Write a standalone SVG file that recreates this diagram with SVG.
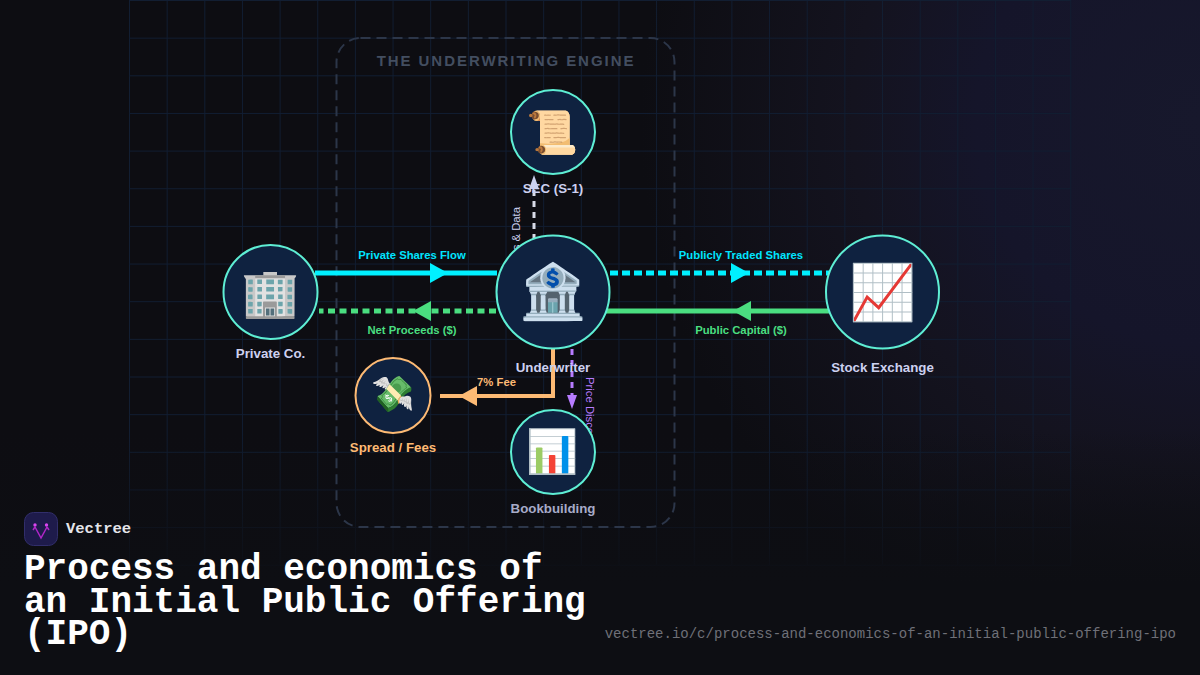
<svg xmlns="http://www.w3.org/2000/svg" width="1200" height="675" viewBox="0 0 1200 675">
<defs>
<radialGradient id="glow" gradientUnits="userSpaceOnUse" cx="1200" cy="120" r="560"><stop offset="0" stop-color="#17182c"/><stop offset="0.4" stop-color="#15152a"/><stop offset="0.62" stop-color="#14131f"/><stop offset="1" stop-color="#0d0d12"/></radialGradient>
<linearGradient id="fade" x1="0" y1="0" x2="0" y2="1"><stop offset="0" stop-color="#0d0e13" stop-opacity="0"/><stop offset="1" stop-color="#0d0e13" stop-opacity="1"/></linearGradient>
<marker id="ac" markerUnits="userSpaceOnUse" markerWidth="18" markerHeight="20" refX="9" refY="10" orient="auto"><path d="M0 0L18 10L0 20Z" fill="#00f0ff"/></marker>
<marker id="ag" markerUnits="userSpaceOnUse" markerWidth="18" markerHeight="20" refX="9" refY="10" orient="auto"><path d="M0 0L18 10L0 20Z" fill="#4ade80"/></marker>
<marker id="ao" markerUnits="userSpaceOnUse" markerWidth="18" markerHeight="20" refX="9" refY="10" orient="auto"><path d="M0 0L18 10L0 20Z" fill="#fdba74"/></marker>
<marker id="aw" markerUnits="userSpaceOnUse" markerWidth="14" markerHeight="10" refX="7" refY="5" orient="auto"><path d="M0 0L14 5L0 10Z" fill="#cbd0ee"/></marker>
<marker id="ap" markerUnits="userSpaceOnUse" markerWidth="14" markerHeight="10" refX="7" refY="5" orient="auto"><path d="M0 0L14 5L0 10Z" fill="#b77cff"/></marker>
</defs>
<style>
.n{fill:#0f2240;stroke:#5eeed4;stroke-width:2}
.e{font-family:"Noto Color Emoji","Noto Sans",sans-serif;text-anchor:middle}
.l{font-family:"Liberation Sans",Arial,sans-serif;font-weight:700;font-size:13.3px;fill:#cdd1f0;text-anchor:middle}
.f{font-family:"Liberation Sans",Arial,sans-serif;font-weight:700;font-size:11.3px;text-anchor:middle}
.r{font-family:"Liberation Sans",Arial,sans-serif;font-size:11.3px}
.m{font-family:"Liberation Mono",monospace}
.c{fill:none;stroke-width:5}
.g{fill:none;stroke:#121e32;stroke-width:1}
</style>
<rect width="1200" height="675" fill="#0c0c11"/>
<rect width="1200" height="675" fill="url(#glow)"/>
<path class="g" d="M129.5 0V565M167.15 0V565M204.8 0V565M242.45 0V565M280.1 0V565M317.75 0V565M355.4 0V565M393.05 0V565M430.7 0V565M468.35 0V565M506 0V565M543.65 0V565M581.3 0V565M618.95 0V565M656.6 0V565M694.25 0V565M731.9 0V565M769.55 0V565M807.2 0V565M844.85 0V565M882.5 0V565M920.15 0V565M957.8 0V565M995.45 0V565M1033.1 0V565M1070.75 0V565M129.5 .5H1071M129.5 38.15H1071M129.5 75.8H1071M129.5 113.45H1071M129.5 151.1H1071M129.5 188.75H1071M129.5 226.4H1071M129.5 264.05H1071M129.5 301.7H1071M129.5 339.35H1071M129.5 377H1071M129.5 414.65H1071M129.5 452.3H1071M129.5 489.95H1071M129.5 527.6H1071M129.5 565.25H1071"/>
<rect x="0" y="430" width="1200" height="155" fill="url(#fade)"/>
<rect x="0" y="585" width="1200" height="90" fill="#0d0e13"/>
<g id="engine"><rect x="336.500" y="38" width="338" height="489" rx="24" fill="none" stroke="#2c3649" stroke-width="2" stroke-dasharray="10 6"/>
<text x="506" y="66" text-anchor="middle" style="font-family:'Liberation Sans',Arial,sans-serif;font-weight:700;font-size:15px;letter-spacing:1.95px" fill="#434e60">THE UNDERWRITING ENGINE</text></g>
<g id="connectors">
<path class="c" d="M315 273H497" stroke="#00f0ff"/>
<path d="M439 273h.01" marker-end="url(#ac)" fill="none"/>
<path class="c" d="M610 273H830" stroke="#00f0ff" stroke-dasharray="8 4"/>
<path d="M740 273h.01" marker-end="url(#ac)" fill="none"/>
<path class="c" d="M496 311H319" stroke="#4ade80" stroke-dasharray="7 4.500"/>
<path d="M422 311h-.01" marker-end="url(#ag)" fill="none"/>
<path class="c" d="M830 311H606" stroke="#4ade80"/>
<path d="M742 311h-.01" marker-end="url(#ag)" fill="none"/>
<path d="M553 349V396H440" fill="none" stroke="#fdba74" stroke-width="4"/>
<path d="M468 396h-.01" marker-end="url(#ao)" fill="none"/>
<path d="M534 240V186" fill="none" stroke="#d8dbe8" stroke-width="3" stroke-dasharray="6 5"/>
<path d="M534 182v-.01" marker-end="url(#aw)" fill="none"/>
<path d="M572 349V402" fill="none" stroke="#b77cff" stroke-width="3" stroke-dasharray="6 5"/>
<path d="M572 402v.01" marker-end="url(#ap)" fill="none"/>
<text class="r" transform="translate(520,207) rotate(-90)" text-anchor="end" fill="#cbd0ee">Filings &amp; Data</text>
<text class="r" transform="translate(586,377) rotate(90)" fill="#b77cff">Price Discovery</text>
<text class="f" x="412" y="259" fill="#00e5ff">Private Shares Flow</text>
<text class="f" x="741" y="259" fill="#00e5ff">Publicly Traded Shares</text>
<text class="f" x="412" y="334" fill="#4ade80">Net Proceeds ($)</text>
<text class="f" x="741" y="334" fill="#4ade80">Public Capital ($)</text>
<text class="f" x="496.500" y="386" fill="#fdba74">7% Fee</text>
</g>
<g id="sec"><circle class="n" cx="553" cy="132" r="42"/><text class="e" x="553" y="146.500" font-size="42">📜</text><text class="l" x="553" y="193">SEC (S-1)</text></g>
<g id="private"><circle class="n" cx="270.500" cy="292" r="47"/><text class="e" x="270.500" y="308.500" font-size="47">🏢</text><text class="l" x="270.500" y="358">Private Co.</text></g>
<g id="underwriter"><circle class="n" cx="553" cy="292" r="56.500"/><text class="e" x="553" y="310" font-size="54">🏦</text><text class="l" x="553" y="372">Underwriter</text></g>
<g id="exchange"><circle class="n" cx="882.500" cy="292" r="56.500"/><text class="e" x="882.500" y="310.500" font-size="54">📈</text><text class="l" x="882.500" y="372">Stock Exchange</text></g>
<g id="spread"><circle class="n" cx="393" cy="395.500" r="37.500" style="stroke:#fdba74"/><text class="e" x="393" y="406" font-size="35">💸</text><text class="l" x="393" y="452" style="fill:#fdba74">Spread / Fees</text></g>
<g id="bookbuilding"><circle class="n" cx="553" cy="452" r="42"/><text class="e" x="553" y="466" font-size="42">📊</text><text class="l" x="553" y="513" style="fill:#a7abc8">Bookbuilding</text></g>
<g id="brand"><rect x="24.500" y="512.500" width="33" height="33" rx="9" fill="#1e1b4b" stroke="#312e6b"/>
<path d="M35 527L41 538L47 527M35 527L33 530M47 527L49 530" fill="none" stroke="#b026c8" stroke-width="1.500"/><circle cx="35" cy="525" r="1.700" fill="#d946ef"/><circle cx="46.500" cy="525" r="1.700" fill="#d946ef"/>
<text class="m" x="66" y="533" font-size="15.500" font-weight="700" fill="#e5e5ea">Vectree</text>
<text class="m" font-size="36" font-weight="700" fill="#fff"><tspan x="24" y="579">Process and economics of</tspan><tspan x="24" y="611.500">an Initial Public Offering</tspan><tspan x="24" y="644">(IPO)</tspan></text>
<text class="m" x="1176" y="637.500" font-size="14" text-anchor="end" fill="#6f7078">vectree.io/c/process-and-economics-of-an-initial-public-offering-ipo</text></g>
</svg>
